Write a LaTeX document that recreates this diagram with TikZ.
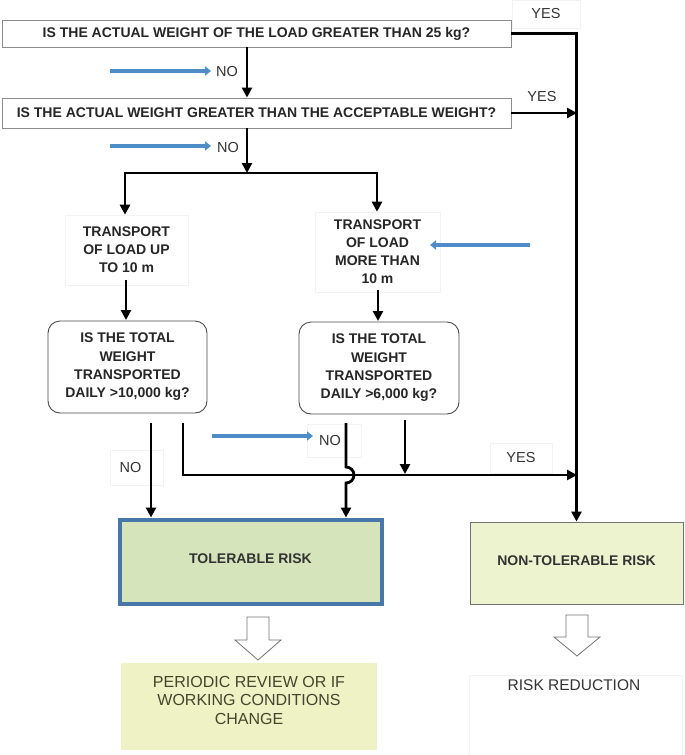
\documentclass[tikz,border=0pt]{standalone}
\usepackage{fontspec}
\setmainfont{Liberation Sans}
\usetikzlibrary{arrows.meta,calc}
\definecolor{bluearr}{HTML}{4E8CC8}
\definecolor{tolfill}{HTML}{D5E4BA}
\definecolor{tolborder}{HTML}{4677A8}
\definecolor{ntolfill}{HTML}{EEF3CF}
\definecolor{perfill}{HTML}{EEF2C4}
\definecolor{pertext}{HTML}{45452F}
\definecolor{faint}{HTML}{F2F2F2}
\begin{document}
\begin{tikzpicture}[x=1pt,y=-1pt,
  qbox/.style={draw=black!45, line width=0.9pt, fill=white, inner sep=0pt,
    font=\bfseries\fontsize{14}{18}\selectfont, text=black!85, align=center},
  tbox/.style={draw=faint, line width=0.6pt, inner sep=0pt,
    font=\bfseries\fontsize{14}{18}\selectfont, text=black!85, align=center},
  rbox/.style={draw=black!70, line width=0.9pt, rounded corners=12pt, fill=white, inner sep=0pt,
    font=\bfseries\fontsize{14}{18.3}\selectfont, text=black!85, align=center},
  lab/.style={draw=faint, line width=0.5pt, inner sep=0pt,
    font=\fontsize{14.5}{16}\selectfont, text=black!80},
  plainlab/.style={inner sep=0pt, font=\fontsize{14.5}{16}\selectfont, text=black!80},
  blk/.style={line width=2.8pt, black, -{Triangle[length=10pt,width=10pt]}},
  blkline/.style={line width=2.8pt, black},
  bluea/.style={line width=4pt, bluearr, -{Triangle[length=6pt,width=9pt]}},
  hollow/.style={draw=black!55, line width=0.8pt, fill=white, line join=miter}
]
\useasboundingbox[fill=white] (0,0) rectangle (685,755);

% question boxes
\node[qbox, minimum width=509pt, minimum height=27pt] (q1) at (256.5,33.5)
  {IS THE ACTUAL WEIGHT OF THE LOAD GREATER THAN 25 kg?};
\node[qbox, minimum width=509pt, minimum height=30pt] (q2) at (256.5,113)
  {IS THE ACTUAL WEIGHT GREATER THAN THE ACCEPTABLE WEIGHT?};

% transport boxes
\node[tbox, minimum width=123pt, minimum height=70pt] (t1) at (126.5,250)
  {TRANSPORT\\OF LOAD UP\\TO 10 m};
\node[tbox, minimum width=125pt, minimum height=80pt] (t2) at (377.5,252)
  {TRANSPORT\\OF LOAD\\MORE THAN\\10 m};

% total weight questions
\node[rbox, minimum width=159pt, minimum height=92pt] (r1) at (127.5,367)
  {IS THE TOTAL\\WEIGHT\\TRANSPORTED\\DAILY >10,000 kg?};
\node[rbox, minimum width=160pt, minimum height=92pt] (r2) at (379,368)
  {IS THE TOTAL\\WEIGHT\\TRANSPORTED\\DAILY >6,000 kg?};

% results
\node[draw=tolborder, line width=4pt, fill=tolfill, minimum width=262pt, minimum height=84pt,
  inner sep=0pt, font=\bfseries\fontsize{14}{16}\selectfont, text=black!80] (tol) at (250.5,561.5)
  {\raisebox{5pt}{TOLERABLE RISK}};
\node[draw=black!55, line width=0.9pt, fill=ntolfill, minimum width=213pt, minimum height=82pt,
  inner sep=0pt, font=\bfseries\fontsize{14}{16}\selectfont, text=black!80] (ntol) at (576.5,563)
  {\raisebox{5pt}{NON-TOLERABLE RISK}};

\node[fill=perfill, minimum width=256pt, minimum height=87pt, inner sep=0pt] (per) at (249,706) {};
\node[inner sep=0pt, font=\fontsize{16}{18.5}\selectfont, text=pertext, align=center, anchor=north]
  (pertxt) at (249,676) {PERIODIC REVIEW OR IF\\WORKING CONDITIONS\\CHANGE};
\node[draw=faint, line width=0.5pt, minimum width=213pt, minimum height=80pt, inner sep=0pt] (rr) at (576,715) {};
\node[inner sep=0pt, font=\fontsize{15.5}{18}\selectfont, text=black!80] (rrtxt) at (574,685) {RISK REDUCTION};

% labels
\node[lab, minimum width=68pt, minimum height=28pt] (y1) at (546,14) {YES};
\node[plainlab] (y2) at (542,97) {YES};
\node[plainlab] (n1) at (227,72) {NO};
\node[plainlab] (n2) at (228,148) {NO};
\node[lab, minimum width=53pt, minimum height=35pt] (n3) at (136.5,467.5) {\hspace*{-12pt}NO};
\node[lab, minimum width=54pt, minimum height=33pt] (n4) at (334,441) {\hspace*{-8pt}NO};
\node[lab, minimum width=62pt, minimum height=30pt] (y3) at (521,458) {YES};

% helper coordinates
\coordinate (vx) at (577,0);
\coordinate (mx) at (247,0);
\coordinate (split) at (247,173);
\coordinate (sl) at (125,173);
\coordinate (sr) at (377,173);
\coordinate (l1) at (151,423);
\coordinate (l2) at (183,423);
\coordinate (l2b) at (183,475);
\coordinate (yesend) at (577,475);
\coordinate (r2a) at (346,423);
\coordinate (r2b) at (346,467);
\coordinate (r2y) at (405,420);
\coordinate (r2yend) at (405,474);

% main flow
\draw[blk] (q1.east) -| (ntol.north);
\draw[blk] (mx |- q1.south) -- (mx |- q2.north);
\draw[blk] (q2.east) -- (q2.east -| vx);
\draw[blk] (mx |- q2.south) -- (split);
\draw[blkline, line cap=rect] (sl) -- (sr);
\draw[blk] (sl) -- (sl |- t1.north);
\draw[blk] (sr) -- (sr |- t2.north);
\draw[blk] (126,280) -- (126,320);
\draw[blk] (378,290) -- (378,321);
\draw[blk] (l1) -- (l1 |- tol.north);
\draw[blk] (l2) -- (l2b) -- (yesend);
\draw[blk] (r2a) -- (r2b) arc[start angle=-90, end angle=90, radius=8] -- (r2a |- tol.north);
\draw[blk] (r2y) -- (r2yend);

% blue arrows
\coordinate (b1s) at (110,71); \coordinate (b1e) at (211,71);
\coordinate (b2s) at (110,146); \coordinate (b2e) at (211,146);
\coordinate (b3s) at (530,245); \coordinate (b3e) at (430,245);
\coordinate (b4s) at (212,436); \coordinate (b4e) at (313,436);
\draw[bluea] (b1s) -- (b1e);
\draw[bluea] (b2s) -- (b2e);
\draw[bluea] (b3s) -- (b3e);
\draw[bluea] (b4s) -- (b4e);

% hollow arrows
\draw[hollow] (247,617) -- (269,617) -- (269,640) -- (281,640) -- (258,660) -- (235,640) -- (247,640) -- cycle;
\draw[hollow] (566,615) -- (588,615) -- (588,637) -- (600,637) -- (577,656) -- (554,637) -- (566,637) -- cycle;
\end{tikzpicture}
\end{document}
